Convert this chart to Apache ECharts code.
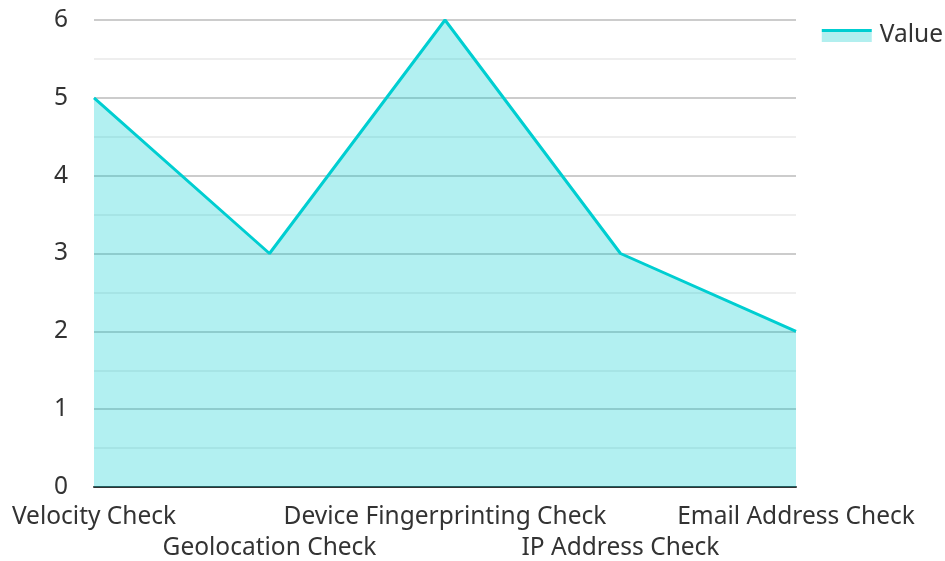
<!DOCTYPE html>
<html>
<head>
<meta charset="utf-8">
<script src="https://cdn.jsdelivr.net/npm/echarts@6/dist/echarts.min.js"></script>
<style>
  html, body { margin: 0; padding: 0; background: #fff; }
  #chart { width: 945px; height: 561px; }
</style>
</head>
<body>
<div id="chart"></div>
<script>
const categories = ['Velocity Check', 'Geolocation Check', 'Device Fingerprinting Check', 'IP Address Check', 'Email Address Check'];
const values = [5, 3, 6, 3, 2];
const seriesName = 'Value';

const lineColor = '#00CED1';
const areaColor = '#b2efef';

const chart = echarts.init(document.getElementById('chart'));
chart.setOption({
  textStyle: { fontFamily: 'Noto Sans' },
  legend: {
    data: [seriesName],
    right: -3,
    top: 18,
    icon: 'rect',
    itemWidth: 50,
    itemHeight: 13,
    itemGap: 8,
    itemStyle: {
      color: {
        type: 'linear', x: 0, y: 0, x2: 0, y2: 1,
        colorStops: [
          { offset: 0, color: lineColor },
          { offset: 0.25, color: lineColor },
          { offset: 0.25, color: areaColor },
          { offset: 1, color: areaColor }
        ]
      }
    },
    textStyle: { fontSize: 24.5, color: '#333', padding: [0, 0, 0, 3] }
  },
  grid: { left: 94, right: 149, top: 20, bottom: 74, outerBoundsMode: 'none' },
  xAxis: {
    type: 'category',
    data: categories,
    boundaryGap: false,
    axisLine: { lineStyle: { color: '#333', width: 2 } },
    axisTick: { show: false },
    axisLabel: {
      interval: 0,
      fontSize: 24.5,
      color: '#333',
      margin: 15,
      lineHeight: 31,
      formatter: (v, i) => (i % 2 ? '\n' + v : v)
    }
  },
  yAxis: {
    type: 'value',
    min: 0,
    max: 6,
    interval: 1,
    axisLine: { show: false },
    axisTick: { show: false },
    axisLabel: { fontSize: 24.5, color: '#333', margin: 26 },
    splitLine: { lineStyle: { color: '#ccc', width: 2 } },
    minorTick: { show: false, splitNumber: 2 },
    minorSplitLine: { show: true, lineStyle: { color: '#eee', width: 2 } }
  },
  series: [{
    name: seriesName,
    type: 'line',
    data: values,
    showSymbol: false,
    lineStyle: { color: lineColor, width: 3 },
    itemStyle: { color: lineColor },
    areaStyle: { color: lineColor, opacity: 0.3 }
  }]
});
</script>
</body>
</html>
